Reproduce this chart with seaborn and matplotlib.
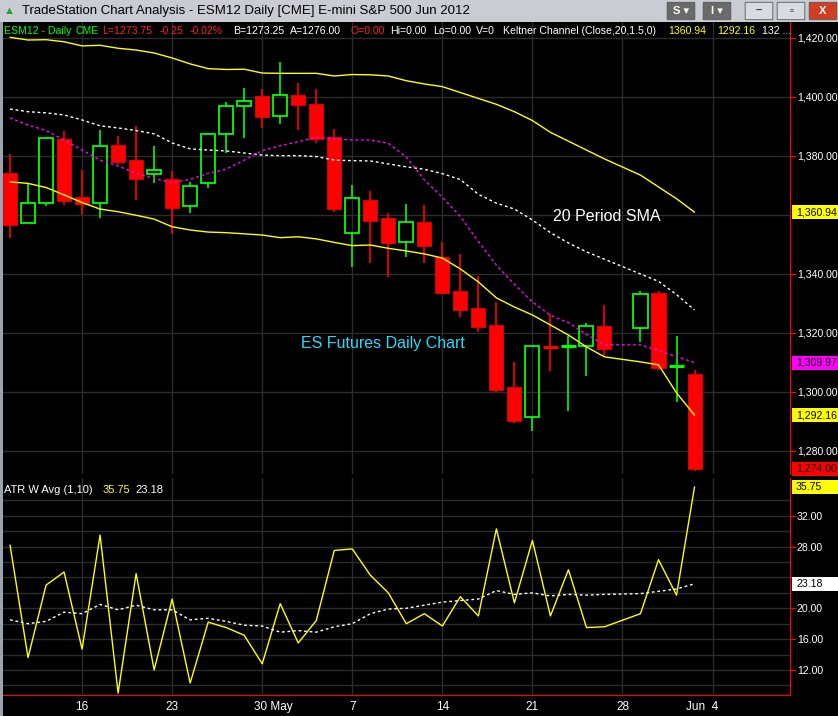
import numpy as np
import pandas as pd
import matplotlib
matplotlib.use("Agg")
import matplotlib.pyplot as plt
import seaborn as sns
from matplotlib.patches import Rectangle, FancyBboxPatch

# --- data ---
# bar slot index (18 px per slot, Memorial Day 28 May is an empty slot)
slots = list(range(0, 34)) + [35, 36, 37, 38]
opens = [1374.2, 1357.3, 1364.1, 1385.8, 1366.1, 1364.1, 1383.7, 1378.6, 1373.9, 1372.2,
         1363.1, 1370.8, 1387.5, 1397.0, 1400.3, 1393.6, 1400.7, 1397.6, 1386.4, 1353.9,
         1365.1, 1359.0, 1350.8, 1357.6, 1345.8, 1334.2, 1328.5, 1322.7, 1301.7, 1291.5,
         1315.3, 1315.3, 1315.6, 1322.4, 1321.7, 1333.6, 1308.6, 1306.1]
highs = [1380.7, 1370.5, 1386.4, 1388.5, 1375.3, 1388.8, 1386.8, 1390.2, 1383.4, 1374.9,
         1371.2, 1387.8, 1398.3, 1403.0, 1402.7, 1411.9, 1404.7, 1402.7, 1389.2, 1370.2,
         1368.1, 1360.7, 1363.7, 1363.4, 1350.8, 1346.8, 1339.3, 1330.5, 1310.2, 1315.6,
         1326.4, 1319.0, 1323.4, 1329.5, 1334.2, 1334.2, 1319.0, 1307.5]
lows = [1352.2, 1357.3, 1363.1, 1363.4, 1360.0, 1359.0, 1377.3, 1365.1, 1370.8, 1353.6,
        1360.7, 1369.2, 1381.0, 1386.1, 1389.5, 1390.8, 1388.8, 1384.4, 1361.0, 1342.4,
        1343.7, 1339.0, 1345.8, 1343.7, 1333.2, 1325.4, 1320.3, 1300.0, 1289.5, 1286.8,
        1307.1, 1293.6, 1305.4, 1311.9, 1316.9, 1307.5, 1296.6, 1273.2]
closes = [1356.6, 1364.1, 1386.1, 1364.7, 1363.7, 1383.4, 1378.0, 1372.2, 1375.3, 1362.4,
          1369.8, 1387.5, 1397.0, 1398.6, 1393.2, 1400.7, 1397.3, 1385.8, 1362.0, 1365.8,
          1358.0, 1350.5, 1357.6, 1349.5, 1333.6, 1327.8, 1322.0, 1300.7, 1290.2, 1315.6,
          1314.9, 1315.6, 1322.4, 1314.6, 1333.2, 1308.1, 1309.0, 1273.75]

keltner_upper = [1420.2, 1419.3, 1419.4, 1418.7, 1417.3, 1417.5, 1416.5, 1415.9, 1414.9, 1413.2,
                 1411.2, 1409.6, 1409.3, 1409.4, 1408.1, 1408.0, 1408.0, 1408.0, 1407.1, 1407.6,
                 1407.5, 1407.1, 1405.5, 1404.4, 1403.5, 1401.5, 1399.5, 1397.5, 1395.0, 1392.0,
                 1388.0, 1385.0, 1382.0, 1379.0, 1373.5, 1369.5, 1365.5, 1360.94]
keltner_lower = [1371.2, 1370.7, 1369.3, 1366.8, 1364.2, 1362.0, 1361.1, 1359.9, 1358.6, 1356.0,
                 1354.9, 1354.2, 1354.0, 1353.6, 1353.2, 1352.3, 1352.6, 1351.9, 1350.7, 1349.6,
                 1349.8, 1348.7, 1347.8, 1346.8, 1345.4, 1341.7, 1337.3, 1331.9, 1328.8, 1326.1,
                 1322.7, 1319.3, 1315.3, 1311.9, 1310.2, 1309.2, 1299.7, 1292.16]
sma20 = [1395.9, 1395.0, 1394.6, 1393.9, 1392.2, 1390.2, 1389.5, 1388.6, 1387.5, 1384.4,
         1382.4, 1382.0, 1381.7, 1381.0, 1380.3, 1380.1, 1380.1, 1379.8, 1378.6, 1378.4,
         1378.3, 1377.3, 1376.3, 1375.5, 1374.0, 1372.0, 1367.0, 1364.0, 1362.0, 1358.3,
         1354.0, 1350.5, 1347.5, 1345.0, 1340.0, 1337.5, 1333.0, 1327.8]
keltner_mid = [1392.9, 1390.5, 1388.6, 1385.4, 1382.0, 1378.6, 1376.6, 1374.1, 1372.4, 1370.9,
               1372.1, 1374.1, 1375.5, 1378.6, 1381.8, 1383.5, 1384.8, 1386.3, 1385.8, 1385.4,
               1385.4, 1384.3, 1379.6, 1371.9, 1366.0, 1359.5, 1351.0, 1343.0, 1336.5, 1330.5,
               1326.0, 1323.5, 1319.5, 1316.0, 1316.0, 1314.0, 1312.0, 1309.97]

atr = [28.2, 13.6, 23.0, 24.7, 14.7, 29.5, 9.0, 24.5, 12.0, 21.2,
       10.3, 18.2, 17.5, 16.5, 12.8, 20.6, 15.5, 18.4, 27.5, 27.7,
       24.3, 22.0, 18.0, 19.3, 17.7, 21.5, 19.0, 30.3, 20.7, 28.8,
       19.0, 25.0, 17.5, 17.6, 19.3, 26.3, 21.7, 35.75]
atr_avg = [18.5, 18.0, 18.3, 19.5, 19.3, 20.5, 19.8, 20.4, 19.8, 19.8,
           18.5, 18.7, 18.3, 17.8, 17.7, 16.9, 17.1, 16.9, 17.6, 18.0,
           19.3, 19.9, 20.0, 20.4, 20.8, 21.0, 21.2, 22.3, 21.8, 22.0,
           21.6, 21.8, 21.7, 21.8, 21.9, 22.2, 22.5, 23.18]

date_ticks = [4, 9, 14.6, 19, 24, 29, 34, 38.4]
date_labels = ["16", "23", "30 May", "7", "14", "21", "28", "Jun  4"]
grid_slots = [4, 9, 14, 19, 24, 29, 34, 39]
price_ticks = [1280, 1300, 1320, 1340, 1380, 1400, 1420]  # 1,360 is hidden under a flag
atr_ticks = [12, 16, 20, 24, 28, 32]

df = pd.DataFrame({"slot": slots, "open": opens, "high": highs, "low": lows, "close": closes,
                   "upper": keltner_upper, "lower": keltner_lower, "sma": sma20,
                   "mid": keltner_mid, "atr": atr, "atr_avg": atr_avg})

sns.set_style("dark")
plt.rcParams["font.family"] = ["Liberation Sans", "DejaVu Sans"]

W, H = 838, 716
fig = plt.figure(figsize=(W / 100, H / 100), dpi=100)
fig.patch.set_facecolor("black")


def px_axes(x0, y0, x1, y1):
    return fig.add_axes([x0 / W, 1 - y1 / H, (x1 - x0) / W, (y1 - y0) / H])


GRID = "#2b2b2b"
XMIN, XMAX = -0.39, 43.3

# --- window chrome ---
fig.patches.append(Rectangle((0, 1 - 22 / H), 1, 22 / H, transform=fig.transFigure,
                             facecolor="#c9cdd3", edgecolor="none"))
fig.patches.append(Rectangle((0, 0), 3 / W, 1 - 22 / H, transform=fig.transFigure,
                             facecolor="#9aa4b0", edgecolor="none"))
fig.text(22 / W, 1 - 11 / H, "TradeStation Chart Analysis - ESM12 Daily [CME] E-mini S&P 500 Jun 2012",
         color="black", fontsize=9.5, va="center")
fig.text(4 / W, 1 - 11 / H, "▲", color="#2a9d2a", fontsize=8, va="center")
for bx, lbl, fc in [(668, "S ▾", "#6a6a6a"), (704, "I ▾", "#6a6a6a"), (746, "–", "#d8dce2"),
                    (778, "▫", "#d8dce2"), (810, "X", "#d04020")]:
    fig.patches.append(FancyBboxPatch((bx / W, 1 - 19 / H), 26 / W, 16 / H,
                                      boxstyle="round,pad=0.001", transform=fig.transFigure,
                                      facecolor=fc, edgecolor="#555555", lw=0.6))
    fig.text((bx + 13) / W, 1 - 11 / H, lbl, color="white" if fc != "#d8dce2" else "#333333",
             fontsize=8, ha="center", va="center", fontweight="bold")

# --- price panel ---
ax = px_axes(3, 22, 790, 474)
ax.set_facecolor("black")
ax.set_xlim(XMIN, XMAX)
ax.set_ylim(1272.2, 1425.4)
for s in grid_slots:
    ax.axvline(s, color=GRID, lw=1, zorder=0)
for v in range(1280, 1421, 20):
    ax.axhline(v, color=GRID, lw=1, zorder=0)

for r in df.itertuples():
    up = r.close >= r.open
    col = "#00ff00" if up else "#ff0000"
    top, bot = max(r.open, r.close), min(r.open, r.close)
    ax.vlines(r.slot, r.low, bot, color=col, lw=1.2, zorder=2)
    ax.vlines(r.slot, top, r.high, color=col, lw=1.2, zorder=2)
    if top - bot < 1.0:
        ax.hlines((top + bot) / 2, r.slot - 0.4, r.slot + 0.4, color=col, lw=2.2, zorder=3)
    elif up:
        ax.add_patch(Rectangle((r.slot - 0.39, bot), 0.78, top - bot, facecolor="none",
                               edgecolor=col, lw=1.3, zorder=3))
    else:
        ax.add_patch(Rectangle((r.slot - 0.39, bot), 0.78, top - bot, facecolor=col,
                               edgecolor=col, lw=0.5, zorder=3))

sns.lineplot(data=df, x="slot", y="upper", ax=ax, color="#ffff00", lw=1, zorder=4)
sns.lineplot(data=df, x="slot", y="lower", ax=ax, color="#ffff00", lw=1, zorder=4)
sns.lineplot(data=df, x="slot", y="sma", ax=ax, color="white", lw=1,
             linestyle=(0, (2, 2)), zorder=4)
sns.lineplot(data=df, x="slot", y="mid", ax=ax, color="#ff00ff", lw=1,
             linestyle=(0, (2, 2)), zorder=4)

ax.text(550 / 787 * (XMAX - XMIN) + XMIN, 1359.5, "20 Period SMA", color="white", fontsize=11.5,
        va="center")
ax.text(298 / 787 * (XMAX - XMIN) + XMIN, 1316.5, "ES Futures Daily Chart", color="#22ddff",
        fontsize=11.5, va="center")

# header row
hdr = [(4, "ESM12 - Daily", "#00ff00"), (76, "CME", "#00ff00"), (102, "L=1273.75", "#ff2020"),
       (160, "-0.25", "#ff2020"), (190, "-0.02%", "#ff2020"), (233, "B=1273.25", "white"),
       (290, "A=1276.00", "white"), (350, "O=0.00", "#ff2020"), (390, "Hi=0.00", "white"),
       (433, "Lo=0.00", "white"), (476, "V=0", "white"), (503, "Keltner Channel (Close,20,1.5,0)", "white"),
       (668, "1360.94", "#ffff00"), (717, "1292.16", "#ffff00"), (762, "132 ...", "white")]
for hx, t, c in hdr:
    fig.text(hx / W, 1 - 31 / H, t, color=c, fontsize=7.6, va="center")

# --- ATR panel ---
ax2 = px_axes(3, 478, 790, 695)
ax2.set_facecolor("black")
ax2.set_xlim(XMIN, XMAX)
ax2.set_ylim(8.75, 36.9)
for s in grid_slots:
    ax2.axvline(s, color=GRID, lw=1, zorder=0)
for v in range(10, 35, 2):
    ax2.axhline(v, color=GRID, lw=1, zorder=0)
sns.lineplot(data=df, x="slot", y="atr", ax=ax2, color="#ffff00", lw=1, zorder=4)
sns.lineplot(data=df, x="slot", y="atr_avg", ax=ax2, color="white", lw=1,
             linestyle=(0, (2, 2)), zorder=4)
ax2.text(1 / 787, 0.93, "ATR W Avg (1,10)", transform=ax2.transAxes, color="white", fontsize=8)
ax2.text(100 / 787, 0.93, "35.75", transform=ax2.transAxes, color="#ffff00", fontsize=8)
ax2.text(132 / 787, 0.93, "23.18", transform=ax2.transAxes, color="white", fontsize=8)

for a in (ax, ax2):
    a.set_xlabel("")
    a.set_ylabel("")
    a.yaxis.tick_right()
    for sp in a.spines.values():
        sp.set_visible(False)
    a.spines["right"].set_visible(True)
    a.spines["right"].set_color("#ff0000")
    a.tick_params(axis="y", colors="#ff0000", labelcolor="white", labelsize=7.6, length=4,
                  direction="out", pad=1)
    a.grid(False)

ax.set_xticks([])
ax.set_yticks(price_ticks)
ax.set_yticklabels([f"{v:,.2f}" for v in price_ticks])
ax2.set_yticks(atr_ticks)
ax2.set_yticklabels([f"{v:.2f}" if v != 24 else "" for v in atr_ticks])
ax2.spines["bottom"].set_visible(True)
ax2.spines["bottom"].set_color("#ff0000")
ax2.set_xticks(date_ticks)
ax2.set_xticklabels(date_labels)
ax2.tick_params(axis="x", colors="black", labelcolor="white", labelsize=8.5, length=0, pad=4)

# value flags on the right axis, drawn above the tick labels
flags = [(ax, 1360.94, "1,360.94", "#ffff00"), (ax, 1309.97, "1,309.97", "#ff00ff"),
         (ax, 1292.16, "1,292.16", "#ffff00"), (ax, 1274.0, "1,274.00", "#ff0000"),
         (ax2, 35.75, "35.75", "#ffff00"), (ax2, 23.18, "23.18", "white")]
for a, v, t, fc in flags:
    fy = a.transData.transform((0, v))[1] / H
    fig.patches.append(Rectangle((792 / W, fy - 7 / H), 46 / W, 14 / H, transform=fig.transFigure,
                                 facecolor=fc, edgecolor="none", zorder=10))
    fig.text(796 / W, fy, t, color="black", fontsize=7.6, va="center", ha="left", zorder=11)

fig.savefig("out.png", dpi=100, facecolor=fig.get_facecolor())
